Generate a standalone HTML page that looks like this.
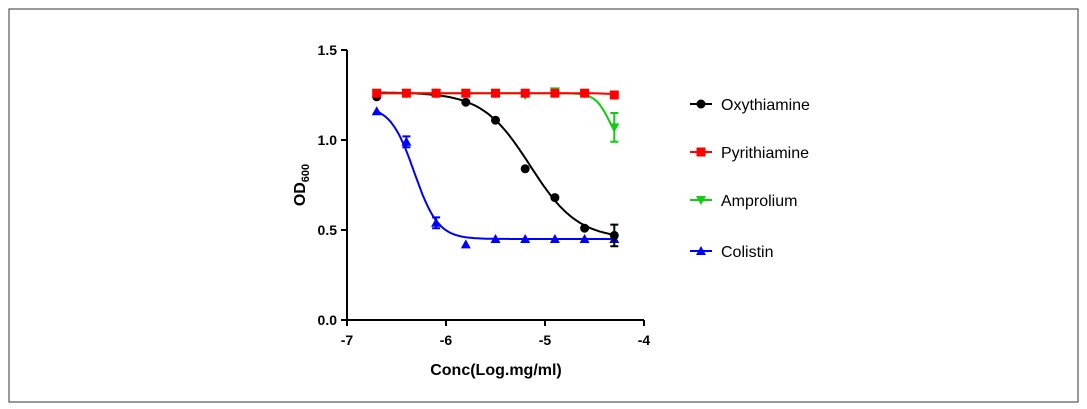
<!DOCTYPE html>
<html><head><meta charset="utf-8"><style>
body{margin:0;background:#fff;}
svg{display:block;font-family:"Liberation Sans",Arial,sans-serif;}
</style></head><body>
<svg id="c" width="1087" height="409">
<rect x="9" y="9" width="1069" height="393" fill="none" stroke="#333" stroke-width="1"/>
<g id="axes"></g><g id="plot"></g><g id="legend"></g>
</svg>
<script>
const xs=[-6.7,-6.4,-6.1,-5.8,-5.5,-5.2,-4.9,-4.6,-4.3];
const seriesNames=["Oxythiamine","Pyrithiamine","Amprolium","Colistin"];
const colors=["#000","#f00","#1c1","#00f"];
const oxy=[1.24,1.26,1.26,1.21,1.11,0.84,0.68,0.51,0.47];
const pyr=[1.26,1.26,1.26,1.26,1.26,1.26,1.26,1.26,1.25];
const amp=[1.26,1.26,1.26,1.26,1.26,1.25,1.27,1.26,1.07];
const col=[1.16,0.99,0.54,0.42,0.45,0.45,0.45,0.45,0.45];
const oxyErr=[0.01,0.01,0.01,0.01,0.01,0.01,0.01,0.01,0.06];
const colErr=[0.01,0.03,0.03,0.01,0.01,0.01,0.01,0.01,0.01];
const ampErr=[0,0,0,0,0,0.01,0.01,0,0.08];
// 4PL fit params: top, bottom, logEC50, hill
const oxyFit=[1.265,0.45,-5.15,1.8];
const pyrFit=[1.26,1.25,-4.3,5];
const ampFit=[1.26,0.95,-4.35,6];
const colFit=[1.19,0.45,-6.32,3.6];
const xTicks=[-7,-6,-5,-4];
const yTicks=[0,0.5,1.0,1.5];
const X=v=>347+(v+7)*99, Y=v=>320-v*180;
const NS="http://www.w3.org/2000/svg";
function mk(t,a,p){const e=document.createElementNS(NS,t);for(const k in a)e.setAttribute(k,a[k]);p.appendChild(e);return e;}
const ax=document.getElementById('axes'),pl=document.getElementById('plot'),lg=document.getElementById('legend');
let e=mk('line',{x1:347,y1:50,x2:347,y2:322,stroke:'#000','stroke-width':2},ax);

e=mk('line',{x1:345,y1:320,x2:644,y2:320,stroke:'#000','stroke-width':2},ax);

yTicks.forEach(v=>{mk('line',{x1:341,y1:Y(v),x2:347,y2:Y(v),stroke:'#000','stroke-width':2},ax);
 e=mk('text',{x:337,y:Y(v)+5,'text-anchor':'end','font-size':14,'font-weight':'bold'},ax);e.textContent=v.toFixed(1);
 });
xTicks.forEach(v=>{mk('line',{x1:X(v),y1:320,x2:X(v),y2:326,stroke:'#000','stroke-width':2},ax);
 e=mk('text',{x:X(v),y:345,'text-anchor':'middle','font-size':14,'font-weight':'bold'},ax);e.textContent=v;
 });
e=mk('text',{x:496,y:375,'text-anchor':'middle','font-size':16,'font-weight':'bold'},ax);e.textContent='Conc(Log.mg/ml)';

e=mk('text',{transform:'translate(305,185) rotate(-90)','text-anchor':'middle','font-size':16,'font-weight':'bold'},ax);
e.innerHTML='OD<tspan font-size="11" dy="4">600</tspan>';

const fits=[oxyFit,pyrFit,ampFit,colFit],data=[oxy,pyr,amp,col],errs=[oxyErr,null,ampErr,colErr];
const order=[3,0,2,1];
function marker(i,cx,cy,p){
 if(i==0)return mk('circle',{cx:cx,cy:cy,r:4.5,fill:colors[i]},p);
 if(i==1)return mk('rect',{x:cx-4.5,y:cy-4.5,width:9,height:9,fill:colors[i]},p);
 if(i==2)return mk('path',{d:`M${cx-5},${cy-4}L${cx+5},${cy-4}L${cx},${cy+5}Z`,fill:colors[i]},p);
 return mk('path',{d:`M${cx-5},${cy+4}L${cx+5},${cy+4}L${cx},${cy-5}Z`,fill:colors[i]},p);}
order.forEach(i=>{const f=fits[i];let d='';
 for(let x=-6.7;x<=-4.299;x+=0.01){const y=f[1]+(f[0]-f[1])/(1+Math.pow(10,(x-f[2])*f[3]));d+=(d?'L':'M')+X(x).toFixed(1)+','+Y(y).toFixed(1);}
 e=mk('path',{d:d,fill:'none',stroke:colors[i],'stroke-width':2},pl);
 
 xs.forEach((x,j)=>{const v=data[i][j];
  if(errs[i]&&errs[i][j]>0.02){const er=errs[i][j];
   mk('path',{d:`M${X(x)},${Y(v-er)}V${Y(v+er)}M${X(x)-4},${Y(v-er)}H${X(x)+4}M${X(x)-4},${Y(v+er)}H${X(x)+4}`,stroke:colors[i],'stroke-width':2,fill:'none'},pl);}
  e=marker(i,X(x),Y(v),pl);
  });});
const ly=[104,152,200,251];
seriesNames.forEach((n,i)=>{const g=mk('g',{},lg);
 
 mk('line',{x1:690,y1:ly[i],x2:712,y2:ly[i],stroke:colors[i],'stroke-width':2},g);marker(i,701,ly[i],g);
 const t=mk('text',{x:721,y:ly[i]+6,'font-size':16},g);t.textContent=n;});
</script>
</body></html>
